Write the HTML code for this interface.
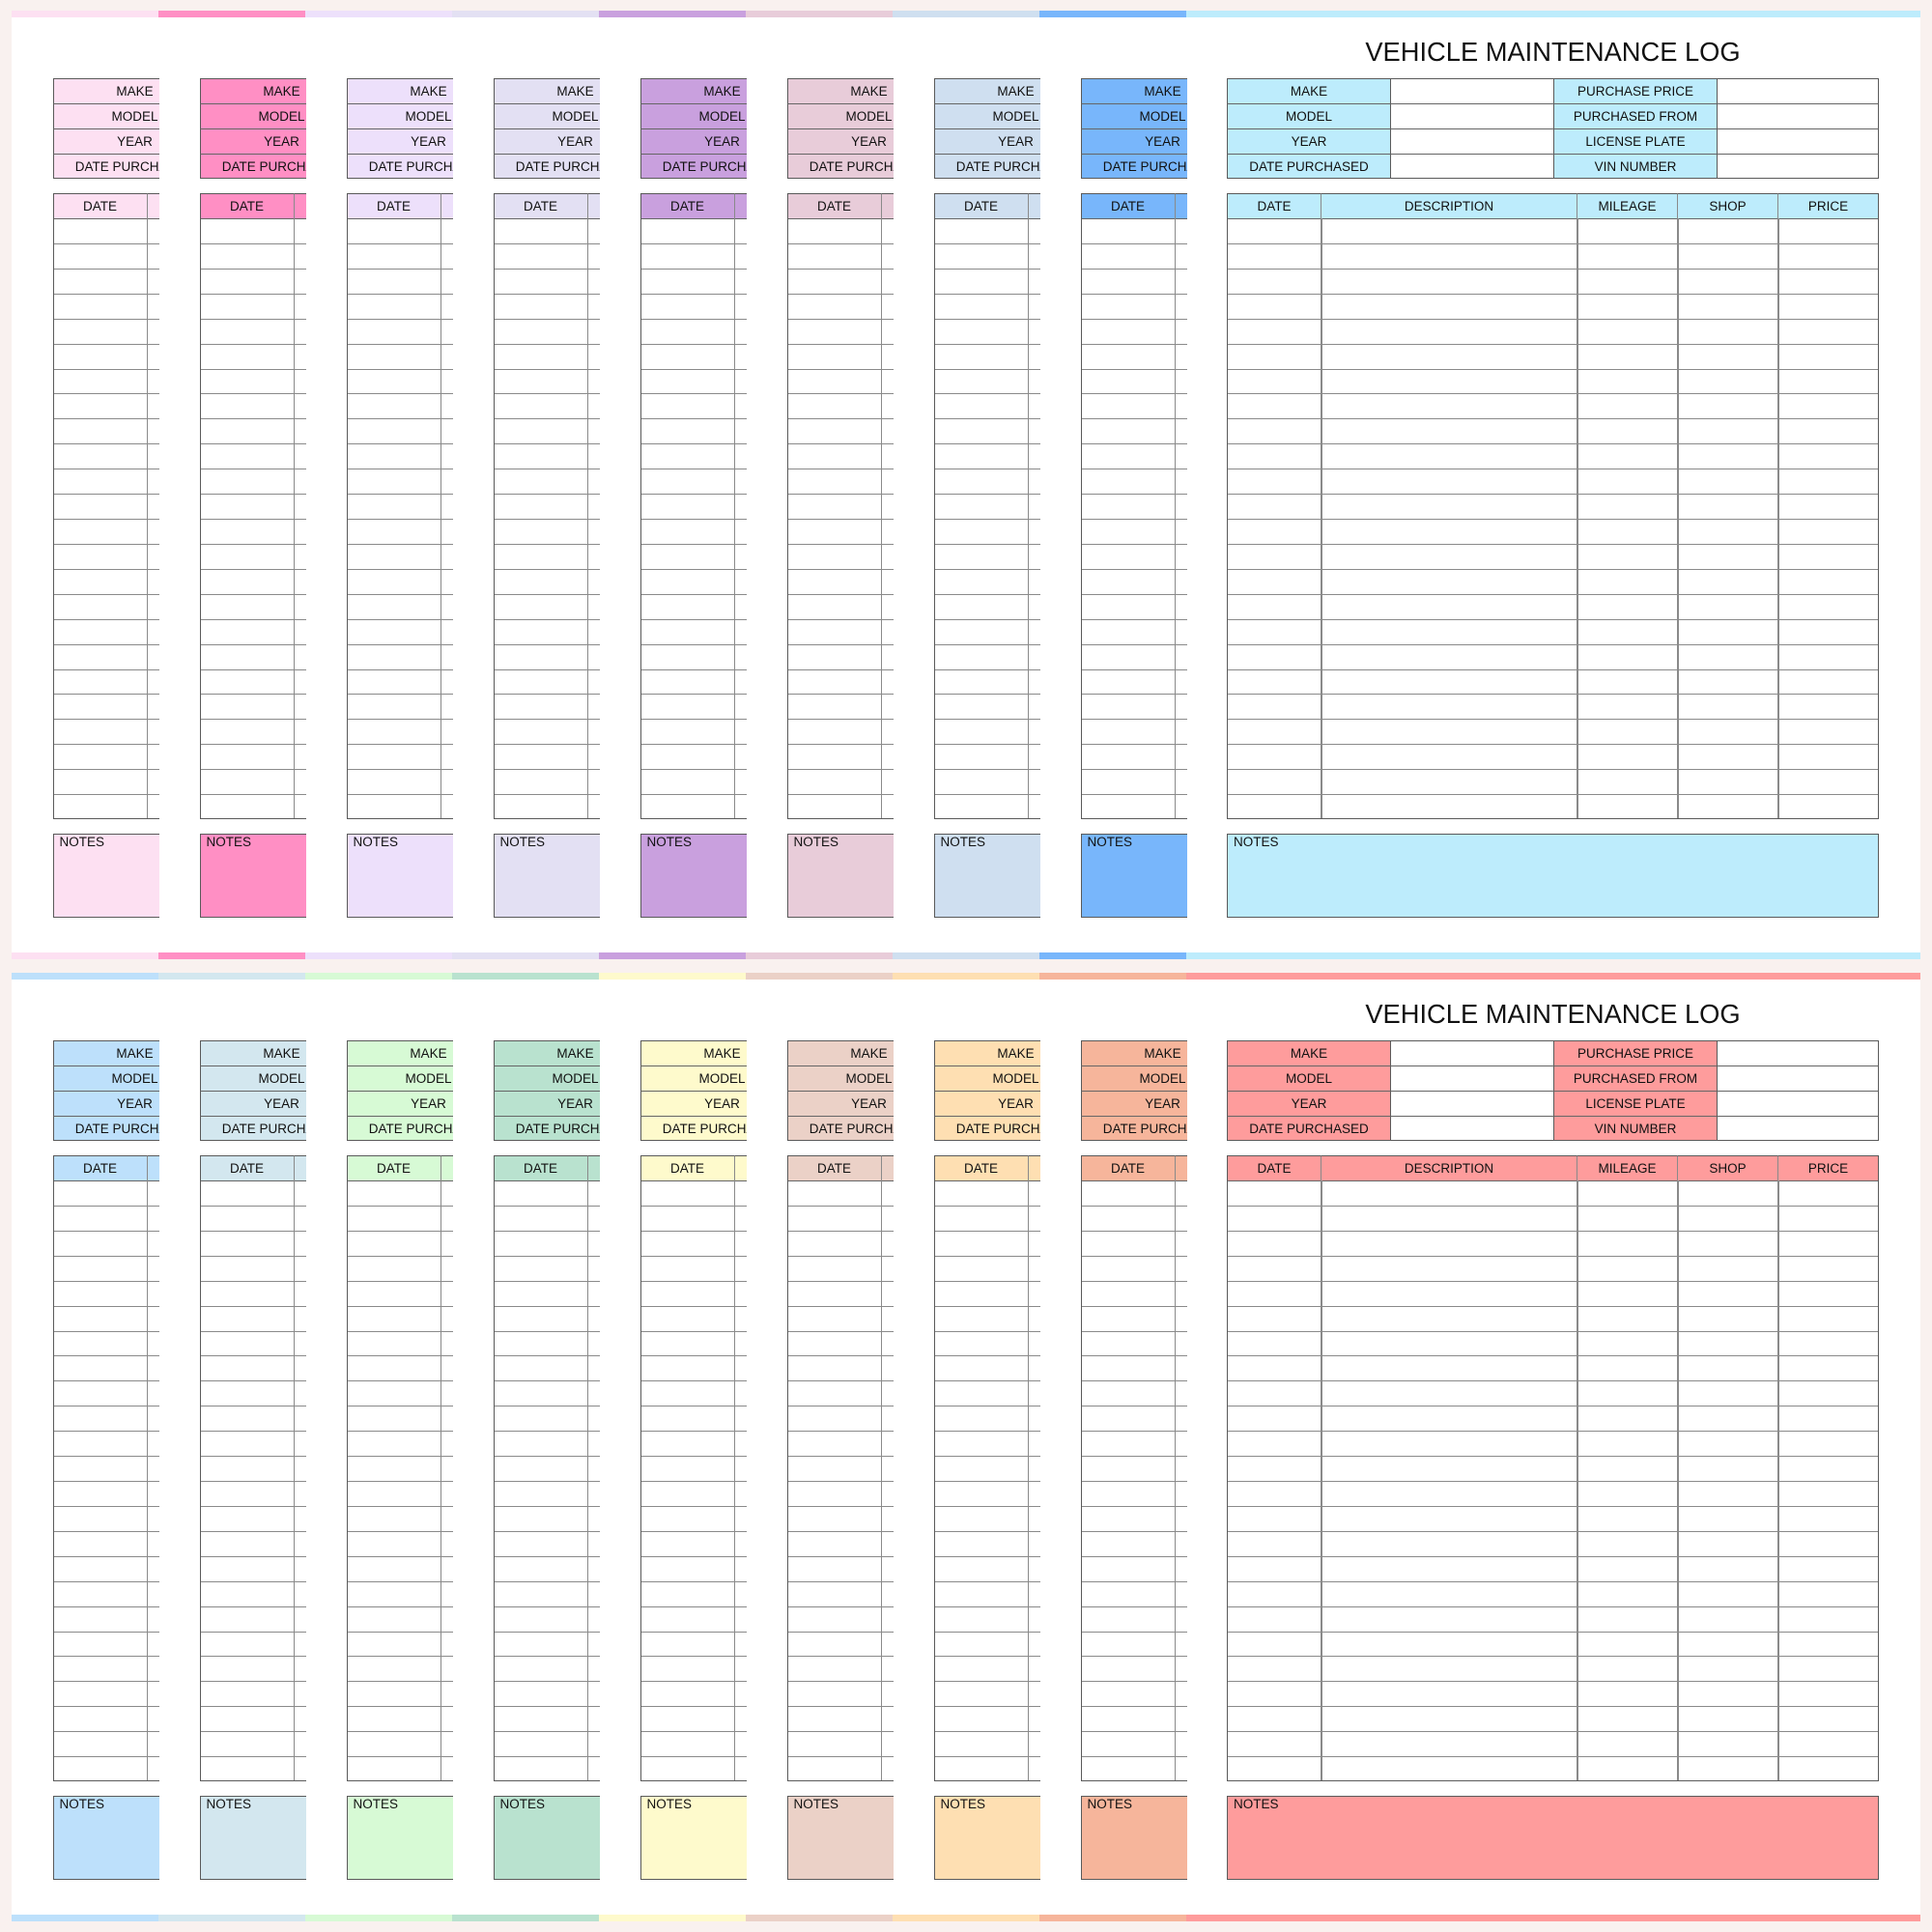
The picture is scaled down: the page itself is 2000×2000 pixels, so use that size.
<!DOCTYPE html>
<html><head><meta charset="utf-8">
<style>
html,body{margin:0;padding:0;}
body{width:2000px;height:2000px;background:#f9f1ef;position:relative;overflow:hidden;font-family:"Liberation Sans",Arial,sans-serif;color:#111;}
.a{position:absolute;box-sizing:border-box;}
.clip{position:absolute;overflow:hidden;}
.cell{position:absolute;box-sizing:border-box;font-size:13.5px;display:flex;align-items:center;justify-content:center;white-space:nowrap;}
</style></head><body>
<script>
const topColors=['#fde0f2','#ff8fc4','#ede0fb','#e3e0f3','#c9a0de','#e8ccd9','#cfdff0','#78b6fb'];
const topBig='#bdecfc';
const botColors=['#bde0fb','#d3e7ef','#d7fad5','#b9e2cf','#fefacc','#ebd1c7','#fedfb2','#f6b59b'];
const botBig='#fe9c9c';
const infoLabelsL=['MAKE','MODEL','YEAR','DATE PURCHASED'];
const infoLabelsR=['PURCHASE PRICE','PURCHASED FROM','LICENSE PLATE','VIN NUMBER'];
const logHeaders=['DATE','DESCRIPTION','MILEAGE','SHOP','PRICE'];
const ROWS=24;

function el(parent,cls,css,name,inter,text){
  const d=document.createElement('div');
  d.className=cls;
  d.setAttribute('style',css);
  
  
  if(text!==undefined)d.textContent=text;
  parent.appendChild(d);return d;
}
const LINE='#8a8a8a', OUT='#5a5a5a';
function sheet(parent,x0,oy,color,full,idx){
  const BX=1270;
  const cw = full?680:110.5;
  const wrap=el(parent,'clip',`left:${x0}px;top:${oy+70}px;width:${cw}px;height:900px;`,full?'main-log-sheet':'mini-log-sheet-'+idx,false);
  const X=v=>v-BX;
  const iTop=81, ih=26;
  const infoCols=[1270,1439,1608,1777,1945];
  for(let r=0;r<4;r++){
    const y=iTop+r*ih-70;
    for(let c=0;c<4;c++){
      const isLabel=(c%2===0);
      const txt=isLabel?(c===0?infoLabelsL[r]:infoLabelsR[r]):'';
      const nm=isLabel?('info-label-'+txt.toLowerCase().replace(/ /g,'-')):'info-value-'+r+'-'+c;
      el(wrap,'cell',`left:${X(infoCols[c])}px;top:${y}px;width:${infoCols[c+1]-infoCols[c]}px;height:${ih}px;background:${isLabel?color:'#fff'};border-left:1.5px solid ${OUT};border-top:1.5px solid ${r===0?OUT:'#666'};${c===3?'border-right:1.5px solid '+OUT+';':''}${r===3?'border-bottom:1.5px solid '+OUT+';':''}`,nm,!isLabel,txt);
    }
  }
  const logCols=[1270,1367,1632,1736,1840,1945];
  const lTop=200-70, lh=26, rh=25.92;
  for(let c=0;c<5;c++){
    el(wrap,'cell',`left:${X(logCols[c])}px;top:${lTop}px;width:${logCols[c+1]-logCols[c]}px;height:${lh}px;background:${color};border-left:1.5px solid ${c===0?OUT:LINE};border-top:1.5px solid ${OUT};${c===4?'border-right:1.5px solid '+OUT+';':''}`,'log-header-'+logHeaders[c].toLowerCase(),false,logHeaders[c]);
  }
  const body=el(wrap,'a',`left:0;top:${lTop+lh}px;width:675px;height:${ROWS*rh}px;border-left:1.5px solid ${OUT};border-right:1.5px solid ${OUT};border-bottom:1.5px solid ${OUT};`,'log-body',false);
  for(let r=0;r<ROWS;r++){
    el(body,'a',`left:0;top:${r*rh}px;width:100%;height:${rh}px;border-top:1.5px solid ${r===0?'#666':LINE};`,'log-row',true);
  }
  for(let c=1;c<5;c++){
    el(body,'a',`left:${X(logCols[c])-1}px;top:0;width:1.5px;height:100%;background:${LINE};`,'log-column-divider',false);
  }
  el(wrap,'a',`left:0;top:${863-70}px;width:675px;height:87px;background:${color};border:1.5px solid ${OUT};font-size:13.5px;padding:0px 6px;`,'notes-box',true,'NOTES');
}
function panel(oy,colors,big,pi){
  el(document.body,'a',`left:12px;top:${oy+11}px;width:1976px;height:982px;background:#fff;`,'log-page-'+pi,false);
  const segs=colors.concat([big]);
  for(let i=0;i<9;i++){
    const x=12+152*i, w=i<8?152:1988-x;
    el(document.body,'a',`left:${x}px;top:${oy+11}px;width:${w}px;height:7px;background:${segs[i]};`,'top-stripe-'+i,false);
    el(document.body,'a',`left:${x}px;top:${oy+986}px;width:${w}px;height:7px;background:${segs[i]};`,'bottom-stripe-'+i,false);
  }
  el(document.body,'a',`left:1270px;top:${oy+36}px;width:675px;height:36px;font-size:27.3px;text-align:center;line-height:36px;`,'page-title',false,'VEHICLE MAINTENANCE LOG');
  const g=el(document.body,'a',`left:0;top:${oy}px;width:2000px;height:1000px;`,'sheets-'+pi,false);
  for(let i=0;i<8;i++) sheet(g,54.5+152*i,0,colors[i],false,i);
  sheet(g,1270,0,big,true,8);
}
panel(0,topColors,topBig,1);
panel(996,botColors,botBig,2);
</script>
</body></html>
